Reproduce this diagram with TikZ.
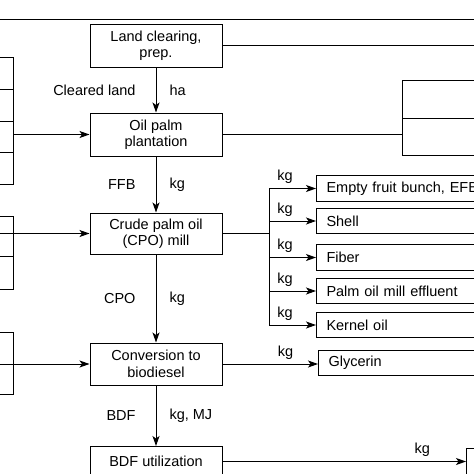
\documentclass[tikz,border=0pt]{standalone}
\usepackage{fontspec}
\setmainfont{Liberation Sans}
\usetikzlibrary{positioning, arrows.meta, calc}

\begin{document}
\begin{tikzpicture}[x=1pt, y=-1pt, line width=1pt,
    every node/.style={font=\fontsize{14.5}{16.5}\selectfont},
    mainbox/.style={draw, minimum width=132pt, minimum height=43pt, align=center, inner sep=2pt},
    outbox/.style={draw, anchor=west, minimum height=25.5pt, text width=160pt, inner xsep=10pt, align=left},
    sidebox/.style={draw, minimum width=40pt},
    lbl/.style={inner sep=1pt},
    flow/.style={-{Stealth[length=10pt, width=7pt, inset=2.5pt]}}]
    \useasboundingbox (0,0) rectangle (474,474);
    % Main chain of process steps
    \node[mainbox] (land) at (156,45.5) {Land clearing,\\prep.};
    \node[mainbox] (plant) at (156,134.5) {Oil palm\\plantation};
    \node[mainbox, minimum height=41pt] (mill) at (156,233.5) {Crude palm oil\\(CPO) mill};
    \node[mainbox, minimum height=42pt] (conv) at (156,364) {Conversion to\\biodiesel};
    \node[mainbox, anchor=north, minimum height=30pt] (bdfu) at (156,446) {BDF utilization};
    % Flows between steps
    \draw[flow] (land) -- (plant) node[midway, left=19pt, lbl] {Cleared land} node[midway, right=12pt, lbl] {ha};
    \draw[flow] (plant) -- (mill) node[midway, left=19pt, lbl] {FFB} node[midway, right=12pt, lbl] {kg};
    \draw[flow] (mill) -- (conv) node[midway, left=19pt, lbl] {CPO} node[midway, right=12pt, lbl] {kg};
    \draw[flow] (conv) -- (bdfu) node[midway, left=19pt, lbl] {BDF} node[midway, right=12pt, lbl] {kg, MJ};
    % Input boxes on the left (cut off)
    \foreach \i/\y in {1/57,2/88.75,3/120.5,4/152.25} {
        \node[sidebox, anchor=north east, minimum height=31.75pt] (inA\i) at (14,\y) {};
    }
    \node[sidebox, anchor=north east, minimum height=40pt] (inB1) at (14,216) {};
    \node[sidebox, anchor=north east, minimum height=33pt] (inB2) at (14,256) {};
    \node[sidebox, anchor=north east, minimum height=62pt] (inC1) at (14,332) {};
    \coordinate (edgeL) at (-5,0);
    \coordinate (edgeR) at (480,0);
    \draw[flow] (plant.west -| inA3.east) -- (plant.west);
    \draw[flow] (mill.west -| edgeL) -- (mill.west);
    \draw[flow] (conv.west -| edgeL) -- (conv.west);
    % Lines at the top and boxes on the right
    \coordinate (topL) at (-5,19);
    \coordinate (topR) at (480,19);
    \draw (topL) -- (topR);
    \draw (land.east) -- (land.east -| edgeR);
    \node[draw, anchor=north west, minimum width=100pt, minimum height=37.5pt] (outA1) at (402,80) {};
    \node[draw, anchor=north west, minimum width=100pt, minimum height=37.5pt] (outA2) at (402,117.5) {};
    \draw (plant.east) -- (plant.east -| outA2.west);
    % Mill outputs
    \node[outbox] (efb) at (316,188.5) {Empty fruit bunch, EFB};
    \node[outbox] (shell) at (316,221) {Shell};
    \node[outbox] (fiber) at (316,257.5) {Fiber};
    \node[outbox] (pome) at (316,291) {Palm oil mill effluent};
    \node[outbox] (kern) at (316,325) {Kernel oil};
    \coordinate (trunk) at (269,233.5);
    \draw (mill.east) -- (trunk);
    \draw (efb.west -| trunk) -- (kern.west -| trunk);
    \foreach \n in {efb,shell,fiber,pome,kern} {
        \draw[flow] (\n.west -| trunk) -- (\n.west) node[pos=0.34, above=3pt, lbl] {kg};
    }
    % Conversion and utilization outputs
    \node[outbox] (glyc) at (318,363) {Glycerin};
    \draw[flow] (conv.east) -- (conv.east -| glyc.west) node[pos=0.66, above=3pt, lbl] {kg};
    \node[draw, anchor=north west, minimum width=40pt, minimum height=40pt] (endbox) at (466,448) {};
    \draw[flow] (bdfu.east) -- (bdfu.east -| endbox.west) node[pos=0.82, above=3pt, lbl] {kg};
\end{tikzpicture}
\end{document}
